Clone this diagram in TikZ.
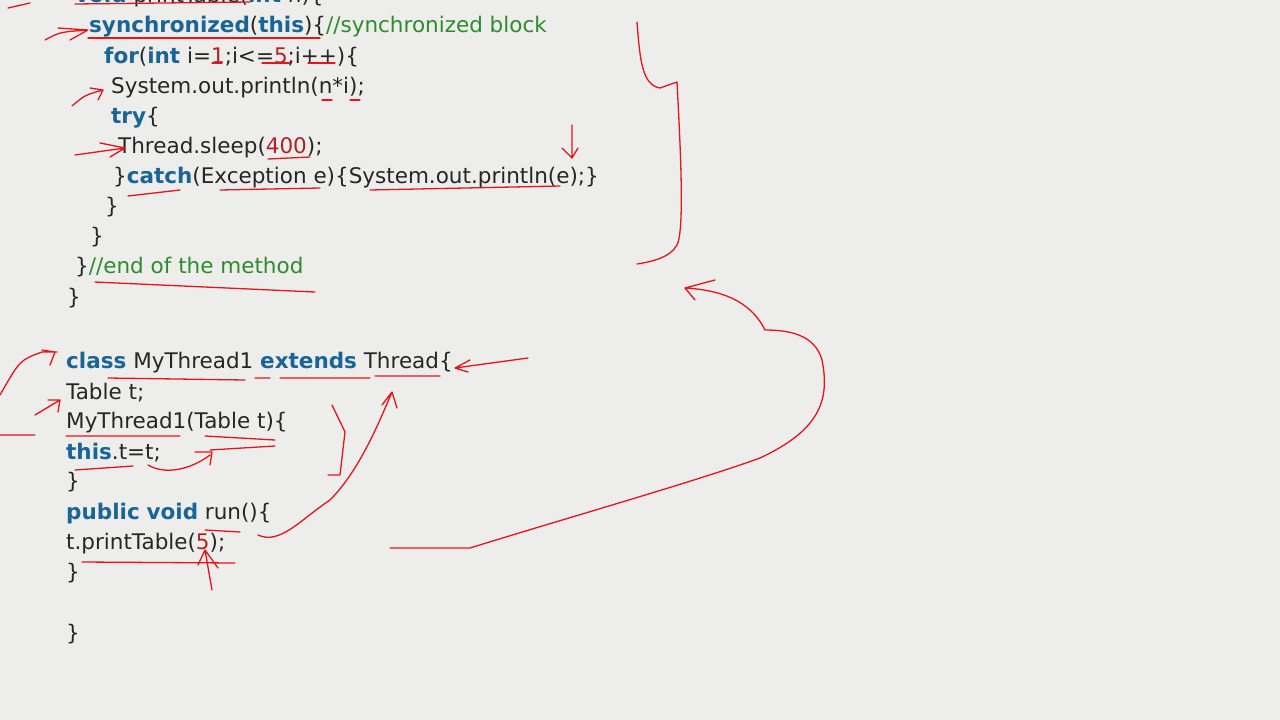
\documentclass[tikz,border=0pt]{standalone}
\usepackage{fontspec}
\setmainfont{DejaVu Sans}
\definecolor{kw}{HTML}{1A6496}
\definecolor{num}{HTML}{B22222}
\definecolor{cm}{HTML}{2E8B2E}
\definecolor{bg}{HTML}{EDEDEB}
\definecolor{ink}{HTML}{E8141A}
\newcommand{\kw}[1]{\textcolor{kw}{\bfseries #1}}
\newcommand{\nm}[1]{\textcolor{num}{#1}}
\newcommand{\cmt}[1]{\textcolor{cm}{#1}}
\begin{document}
\begin{tikzpicture}[x=1pt,y=-1pt,
  code/.style={anchor=west,inner sep=0pt,yshift=-2.5pt,font=\fontsize{21.5}{24}\selectfont,text=black!85},
  pen/.style={draw=ink,line width=1.3pt,line cap=round,line join=round}]
\fill[bg] (0,0) rectangle (1280,720);
\useasboundingbox (0,0) rectangle (1280,720);
\begin{scope}
\clip (0,0) rectangle (1280,720);
\node[code] (l0) at (75,-6) {\kw{void} printTable(\kw{int} n)\{};
\end{scope}
\node[code] (l1) at (89,24) {\kw{synchronized}(\kw{this})\{\cmt{//synchronized block}};
\node[code] (l2) at (104,55) {\kw{for}(\kw{int} i=\nm{1};i<=\nm{5};i++)\{};
\node[code] (l3) at (111,85) {System.out.println(n*i);};
\node[code] (l4) at (111,115) {\kw{try}\{};
\node[code] (l5) at (118,145) {Thread.sleep(\nm{400});};
\node[code] (l6) at (113,175) {\}\kw{catch}(Exception e)\{System.out.println(e);\}};
\node[code] (l7) at (105,205) {\}};
\node[code] (l8) at (90,235) {\}};
\node[code] (l9) at (75,265) {\}\cmt{//end of the method}};
\node[code] (l10) at (67,296) {\}};
\node[code] (m1) at (66,360) {\kw{class} MyThread1 \kw{extends} Thread\{};
\node[code] (m2) at (66,390) {Table t;};
\node[code] (m3) at (66,420) {MyThread1(Table t)\{};
\node[code] (m4) at (66,450) {\kw{this}.t=t;};
\node[code] (m5) at (66,480) {\}};
\node[code] (m6) at (66,511) {\kw{public} \kw{void} run()\{};
\node[code] (m7) at (66,541) {t.printTable(\nm{5});};
\node[code] (m8) at (66,571) {\}};
\node[code] (m9) at (66,632) {\}};
% red annotations
\draw[pen] (30,3) -- (8,8) (75,4) -- (250,2);
\draw[pen] (45,40) .. controls (60,32) .. (88,30) (58,28) -- (88,30) -- (70,40);
\draw[pen] (88,38) -- (320,38);
\draw[pen] (212,63) -- (222,63) (262,63) -- (290,63) (308,63) -- (335,63);
\draw[pen] (72,106) .. controls (85,95) .. (103,90) (90,88) -- (103,90) -- (98,100);
\draw[pen] (322,100) -- (332,100) (350,100) -- (360,100);
\draw[pen] (268,159) -- (310,157);
\draw[pen] (75,155) -- (125,148) (100,143) -- (125,148) -- (110,157);
\draw[pen] (572,125) -- (572,158) (562,148) -- (572,158) -- (578,148);
\draw[pen] (128,196) -- (180,190) (220,190) -- (320,188) (370,190) -- (560,186);
\draw[pen] (95,282) -- (315,292);
\draw[pen] (637,22) .. controls (640,60) and (642,85) .. (660,88) -- (677,82)
  .. controls (680,140) and (685,230) .. (677,245) .. controls (670,258) and (650,262) .. (637,264);
\draw[pen] (0,395) .. controls (20,360) .. (42,352) -- (57,352) (42,350) -- (55,352) -- (50,365);
\draw[pen] (0,435) -- (35,435) (35,415) -- (60,400) (48,400) -- (60,400) -- (58,412);
\draw[pen] (108,378) -- (245,380) (255,378) -- (270,378) (280,378) -- (370,378) (375,376) -- (440,376);
\draw[pen] (528,358) -- (455,368) (470,360) -- (455,368) -- (468,372);
\draw[pen] (66,436) -- (180,436) (205,436) -- (275,440) (210,450) -- (275,446);
\draw[pen] (332,405) -- (345,432) -- (340,475) -- (328,475);
\draw[pen] (75,470) -- (133,466) (148,465) .. controls (165,475) and (190,470) .. (210,455) (195,452) -- (212,452) -- (210,465);
\draw[pen] (205,530) -- (240,532) (258,535) .. controls (280,545) and (300,520) .. (330,500) .. controls (360,470) and (380,420) .. (392,392) (382,405) -- (392,392) -- (397,408);
\draw[pen] (82,562) -- (235,563);
\draw[pen] (212,590) -- (205,550) (198,565) -- (205,550) -- (218,568);
\draw[pen] (390,548) -- (470,548) .. controls (560,520) and (700,480) .. (760,458)
  .. controls (820,430) and (830,400) .. (822,360) .. controls (815,335) and (790,330) .. (765,330)
  .. controls (750,300) and (720,290) .. (685,288) (715,280) -- (685,288) -- (695,300);
\end{tikzpicture}
\end{document}
